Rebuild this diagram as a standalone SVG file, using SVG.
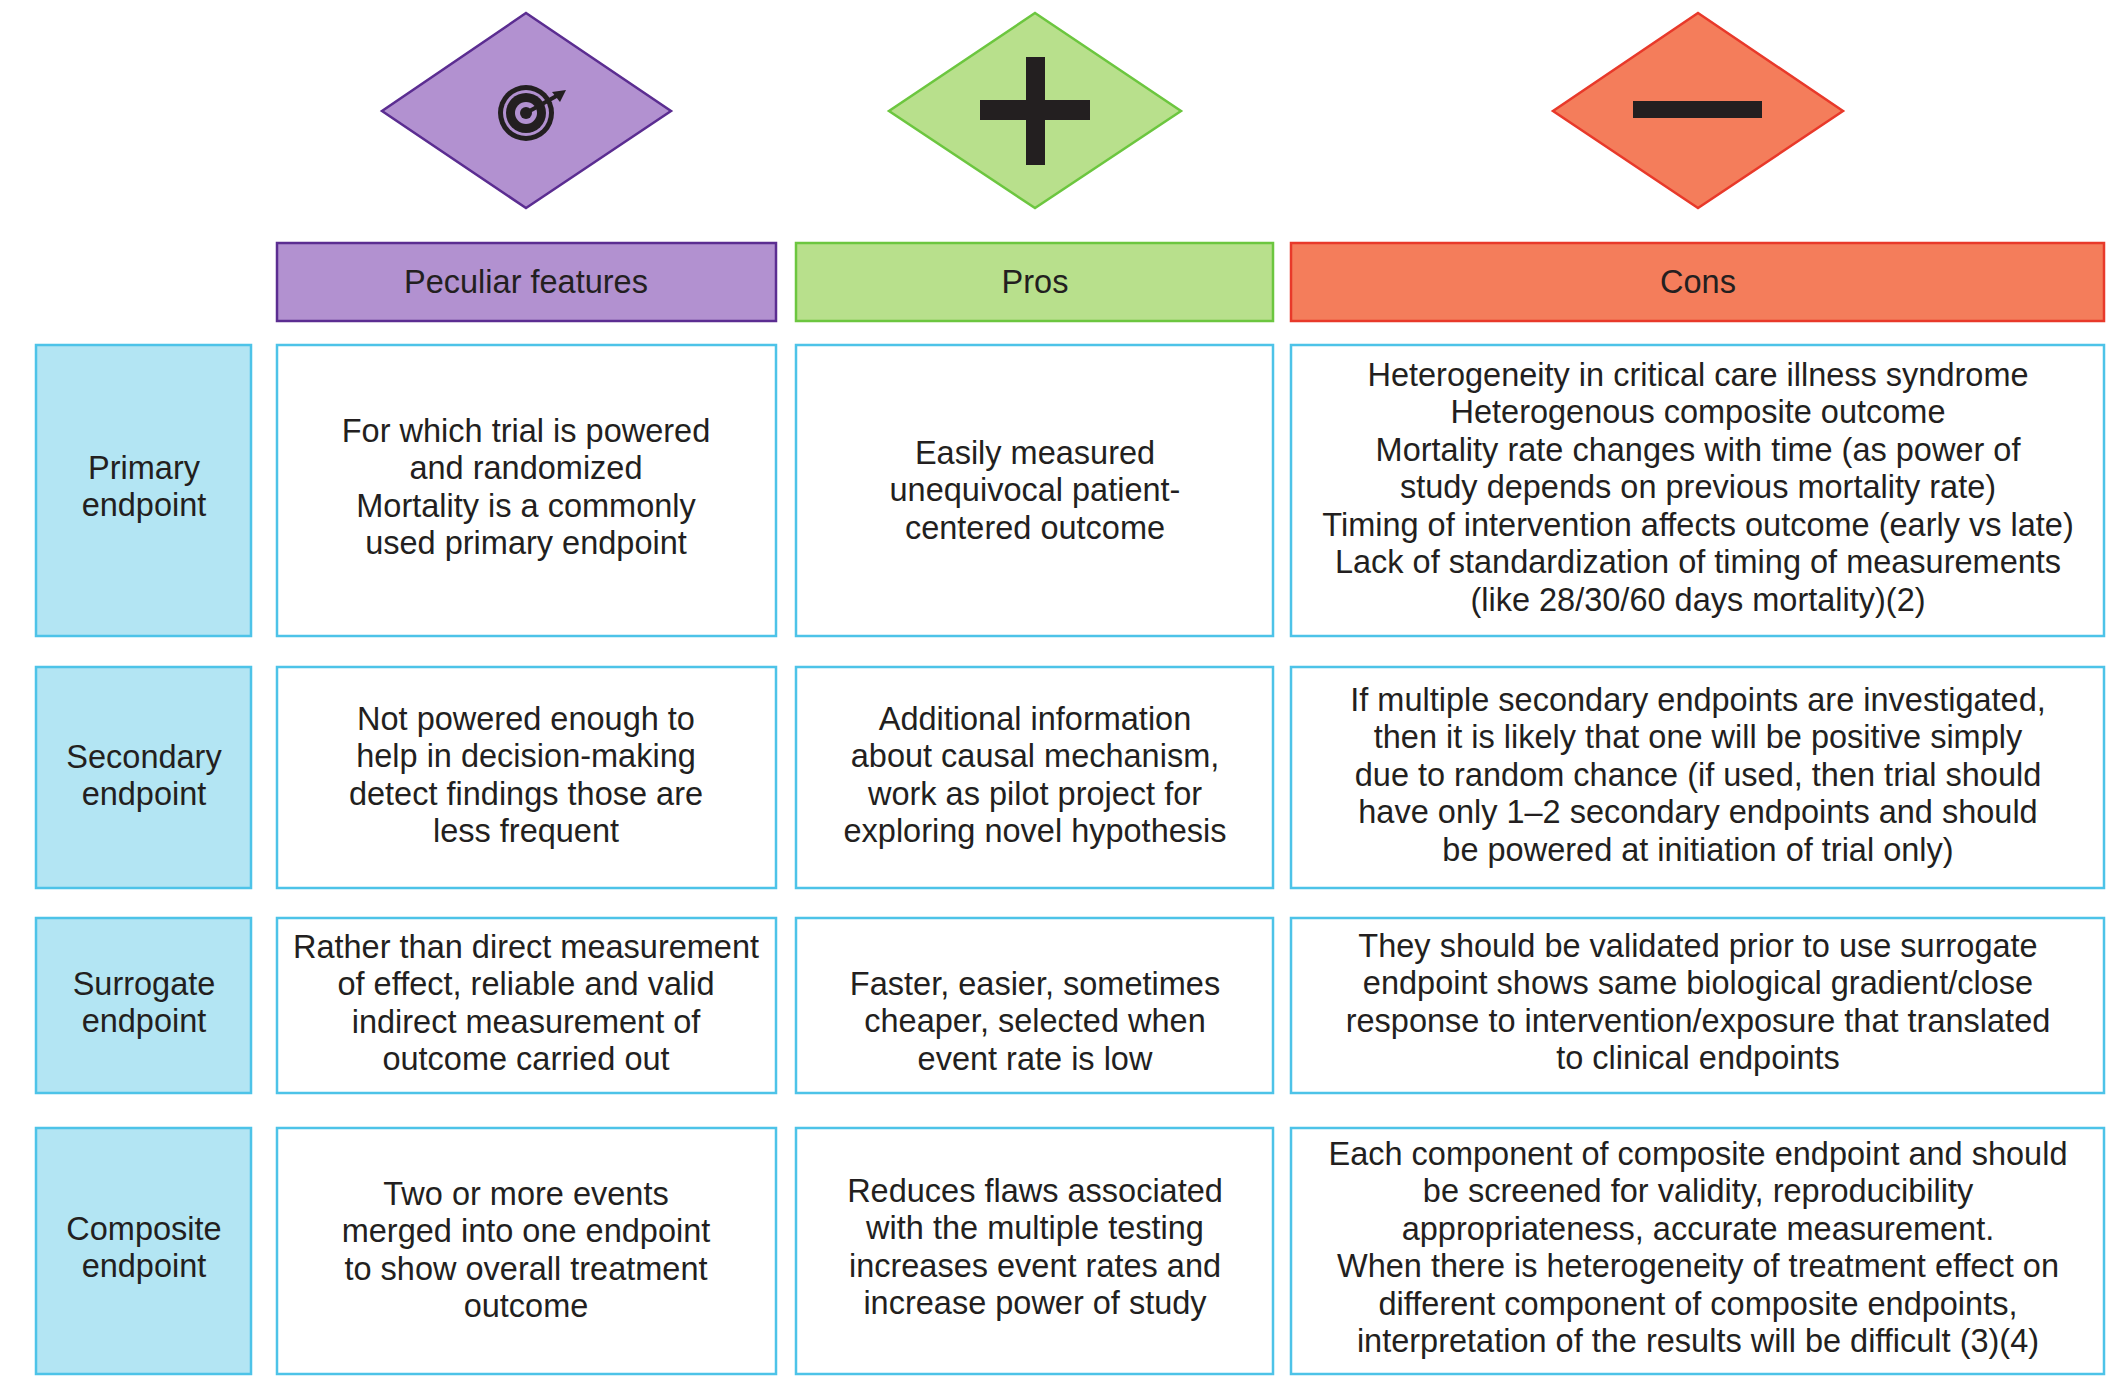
<svg xmlns="http://www.w3.org/2000/svg" width="2116" height="1390" viewBox="0 0 2116 1390">
<style>
text{font-family:"Liberation Sans",Arial,sans-serif;font-size:32.5px;fill:#231f20;text-anchor:middle}
.cell{fill:#fff;stroke:#4dc3e8;stroke-width:2.5}
.lab{fill:#b3e5f3;stroke:#4dc3e8;stroke-width:2.5}
.pu{fill:#b291d0;stroke:#5b2d91;stroke-width:2.5}
.gr{fill:#b8e08c;stroke:#6cc63f;stroke-width:2.5}
.re{fill:#f47d5b;stroke:#e8392a;stroke-width:2.5}
</style>
<rect width="2116" height="1390" fill="#fff"/>
<g id="icon-target">
<polygon class="pu" points="526,13 671,111 526,208 382,111"/>
<circle cx="526" cy="113" r="28" fill="#231f20"/>
<circle cx="526" cy="113" r="23" fill="#b291d0"/>
<circle cx="526" cy="113" r="20" fill="#231f20"/>
<circle cx="526" cy="113" r="11" fill="#b291d0"/>
<circle cx="526" cy="113" r="6" fill="#231f20"/>
<line x1="526" y1="113" x2="560" y2="94" stroke="#231f20" stroke-width="4"/>
<polygon points="566,90 552,92 560,102" fill="#231f20"/>
</g>
<g id="icon-plus">
<polygon class="gr" points="1035,13 1181,111 1035,208 889,111"/>
<rect x="1026" y="57" width="19" height="108" fill="#231f20"/>
<rect x="980" y="100" width="110" height="20" fill="#231f20"/>
</g>
<g id="icon-minus">
<polygon class="re" points="1698,13 1843,111 1698,208 1553,111"/>
<rect x="1633" y="101" width="129" height="17" fill="#231f20"/>
</g>
<g id="h-peculiar"><rect class="pu" x="277" y="243" width="499" height="78"/><text x="526" y="293">Peculiar features</text></g>
<g id="h-pros"><rect class="gr" x="796" y="243" width="477" height="78"/><text x="1035" y="293">Pros</text></g>
<g id="h-cons"><rect class="re" x="1291" y="243" width="813" height="78"/><text x="1698" y="293">Cons</text></g>

<g id="r1-label"><rect class="lab" x="36" y="345" width="215" height="291"/><text x="144" y="479">Primary</text><text x="144" y="516">endpoint</text></g>
<g id="r1-c1"><rect class="cell" x="277" y="345" width="499" height="291"/><text x="526" y="442">For which trial is powered</text><text x="526" y="479">and randomized</text><text x="526" y="517">Mortality is a commonly</text><text x="526" y="554">used primary endpoint</text></g>
<g id="r1-c2"><rect class="cell" x="796" y="345" width="477" height="291"/><text x="1035" y="464">Easily measured</text><text x="1035" y="501">unequivocal patient-</text><text x="1035" y="539">centered outcome</text></g>
<g id="r1-c3"><rect class="cell" x="1291" y="345" width="813" height="291"/>
<text x="1698" y="386">Heterogeneity in critical care illness syndrome</text>
<text x="1698" y="423">Heterogenous composite outcome</text>
<text x="1698" y="461">Mortality rate changes with time (as power of</text>
<text x="1698" y="498">study depends on previous mortality rate)</text>
<text x="1698" y="536">Timing of intervention affects outcome (early vs late)</text>
<text x="1698" y="573">Lack of standardization of timing of measurements</text>
<text x="1698" y="611">(like 28/30/60 days mortality)(2)</text></g>

<g id="r2-label"><rect class="lab" x="36" y="667" width="215" height="221"/><text x="144" y="768">Secondary</text><text x="144" y="805">endpoint</text></g>
<g id="r2-c1"><rect class="cell" x="277" y="667" width="499" height="221"/><text x="526" y="730">Not powered enough to</text><text x="526" y="767">help in decision-making</text><text x="526" y="805">detect findings those are</text><text x="526" y="842">less frequent</text></g>
<g id="r2-c2"><rect class="cell" x="796" y="667" width="477" height="221"/><text x="1035" y="730">Additional information</text><text x="1035" y="767">about causal mechanism,</text><text x="1035" y="805">work as pilot project for</text><text x="1035" y="842">exploring novel hypothesis</text></g>
<g id="r2-c3"><rect class="cell" x="1291" y="667" width="813" height="221"/>
<text x="1698" y="711">If multiple secondary endpoints are investigated,</text>
<text x="1698" y="748">then it is likely that one will be positive simply</text>
<text x="1698" y="786">due to random chance (if used, then trial should</text>
<text x="1698" y="823">have only 1–2 secondary endpoints and should</text>
<text x="1698" y="861">be powered at initiation of trial only)</text></g>

<g id="r3-label"><rect class="lab" x="36" y="918" width="215" height="175"/><text x="144" y="995">Surrogate</text><text x="144" y="1032">endpoint</text></g>
<g id="r3-c1"><rect class="cell" x="277" y="918" width="499" height="175"/><text x="526" y="958">Rather than direct measurement</text><text x="526" y="995">of effect, reliable and valid</text><text x="526" y="1033">indirect measurement of</text><text x="526" y="1070">outcome carried out</text></g>
<g id="r3-c2"><rect class="cell" x="796" y="918" width="477" height="175"/><text x="1035" y="995">Faster, easier, sometimes</text><text x="1035" y="1032">cheaper, selected when</text><text x="1035" y="1070">event rate is low</text></g>
<g id="r3-c3"><rect class="cell" x="1291" y="918" width="813" height="175"/>
<text x="1698" y="957">They should be validated prior to use surrogate</text>
<text x="1698" y="994">endpoint shows same biological gradient/close</text>
<text x="1698" y="1032">response to intervention/exposure that translated</text>
<text x="1698" y="1069">to clinical endpoints</text></g>

<g id="r4-label"><rect class="lab" x="36" y="1128" width="215" height="246"/><text x="144" y="1240">Composite</text><text x="144" y="1277">endpoint</text></g>
<g id="r4-c1"><rect class="cell" x="277" y="1128" width="499" height="246"/><text x="526" y="1205">Two or more events</text><text x="526" y="1242">merged into one endpoint</text><text x="526" y="1280">to show overall treatment</text><text x="526" y="1317">outcome</text></g>
<g id="r4-c2"><rect class="cell" x="796" y="1128" width="477" height="246"/><text x="1035" y="1202">Reduces flaws associated</text><text x="1035" y="1239">with the multiple testing</text><text x="1035" y="1277">increases event rates and</text><text x="1035" y="1314">increase power of study</text></g>
<g id="r4-c3"><rect class="cell" x="1291" y="1128" width="813" height="246"/>
<text x="1698" y="1165">Each component of composite endpoint and should</text>
<text x="1698" y="1202">be screened for validity, reproducibility</text>
<text x="1698" y="1240">appropriateness, accurate measurement.</text>
<text x="1698" y="1277">When there is heterogeneity of treatment effect on</text>
<text x="1698" y="1315">different component of composite endpoints,</text>
<text x="1698" y="1352">interpretation of the results will be difficult (3)(4)</text></g>
<g id="connectors"/>
</svg>
